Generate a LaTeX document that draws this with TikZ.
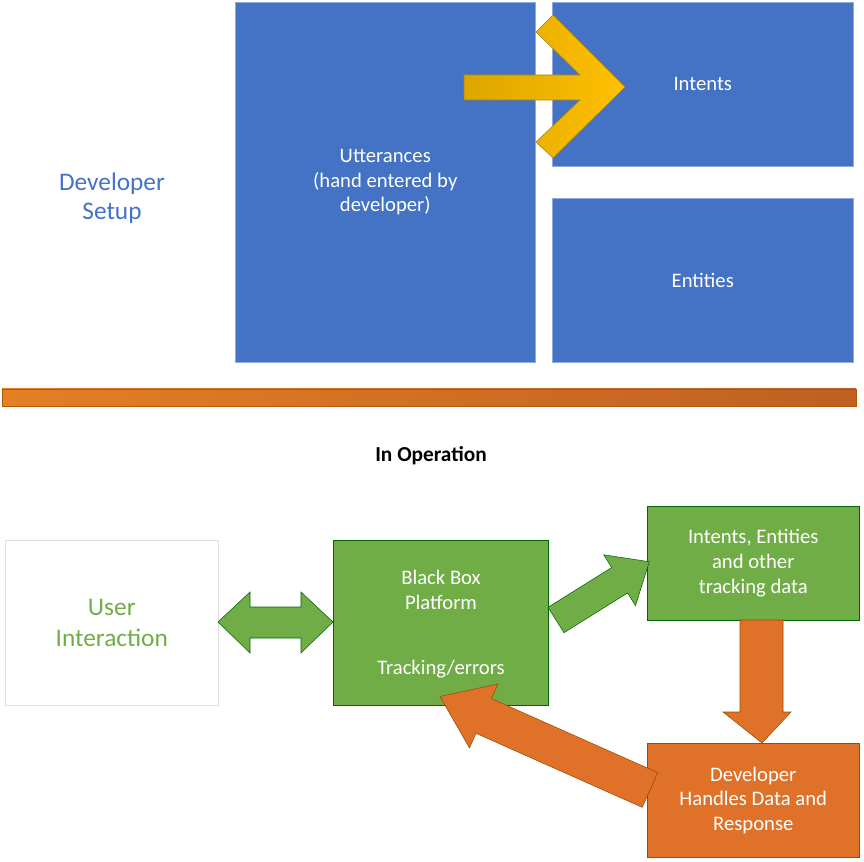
\documentclass[tikz,border=0pt]{standalone}
\usepackage{fontspec}
\setmainfont{Carlito}
\begin{document}
\begin{tikzpicture}[x=0.75pt,y=-0.75pt,
  box/.style={text=white, font=\fontsize{15.5}{18.5}\selectfont, align=center, anchor=north west, inner sep=0pt},
  blk/.style={box, fill=bluec, draw=bluec!60!white},
  grn/.style={box, draw=green!40!black, fill=grnc},
  org/.style={box, draw=orange!60!black, fill=orgc}]
\definecolor{bluec}{HTML}{4472C4}
\definecolor{grnc}{HTML}{70AD47}
\definecolor{orgc}{HTML}{E07128}
\definecolor{ylwa}{HTML}{DCA600}
\definecolor{ylwb}{HTML}{FFC000}
\useasboundingbox (0,0) rectangle (864,862);
% developer setup
\node[blk, minimum width=225pt, minimum height=270pt] (utt) at (235,2) {Utterances\\(hand entered by\\developer)};
\node[blk, minimum width=225.75pt, minimum height=123pt] (int) at (552,2) {Intents};
\node[blk, minimum width=225.75pt, minimum height=123pt] (ent) at (552,198) {Entities};
\node[text=bluec, font=\fontsize{19}{22}\selectfont, align=center] (dev) at (112,198) {Developer\\Setup};
\draw[draw=ylwa!80!black, left color=ylwa, right color=ylwb, line join=miter]
  (464,75) -- (580,75) -- (536,32) -- (553,15) -- (625,87) -- (553,158) -- (536,142) -- (580,100) -- (464,100) -- cycle;
% separator
\draw[draw=orange!70!black, left color=orgc!90!yellow, right color=orgc!85!black] (2,389) rectangle (856,406);
\node[font=\bfseries\fontsize{16}{19}\selectfont] (op) at (431,456) {In Operation};
% operation
\node[draw=black!12, anchor=north west, minimum width=159.75pt, minimum height=123.75pt, inner sep=0pt, text=grnc, font=\fontsize{19}{23}\selectfont, align=center] (user) at (5,540) {User\\Interaction};
\node[grn, minimum width=161.25pt, minimum height=123.75pt] (bb) at (333,540) {};
\node[text=white, font=\fontsize{15.5}{18.5}\selectfont, align=center] at (441,590) {Black Box\\Platform};
\node[text=white, font=\fontsize{15.5}{18.5}\selectfont] at (441,669) {Tracking/errors};
\node[grn, minimum width=159pt, minimum height=85.5pt] (ied) at (647,506) {Intents, Entities\\and other\\tracking data};
\node[org, minimum width=159pt, minimum height=85.5pt] (dh) at (647,743) {Developer\\Handles Data and\\Response};
% arrows
\draw[draw=green!40!black, fill=grnc] (218,622) -- (250,592) -- (250,607) -- (301,607) -- (301,592) -- (333,622) -- (301,653) -- (301,638) -- (250,638) -- (250,653) -- cycle;
\begin{scope}[shift={(556,620)}, rotate=32]
\draw[draw=green!40!black, fill=grnc] (0,-15) -- (75,-15) -- (75,-30) -- (110,0) -- (75,30) -- (75,15) -- (0,15) -- cycle;
\end{scope}
\draw[draw=orange!60!black, fill=orgc] (740,620) -- (783,620) -- (783,712) -- (791,712) -- (762,743) -- (723,712) -- (740,712) -- cycle;
\begin{scope}[shift={(650,790)}, rotate=156]
\draw[draw=orange!60!black, fill=orgc] (0,-19) -- (182,-19) -- (182,-35) -- (230,0) -- (182,35) -- (182,19) -- (0,19) -- cycle;
\end{scope}
\end{tikzpicture}
\end{document}
